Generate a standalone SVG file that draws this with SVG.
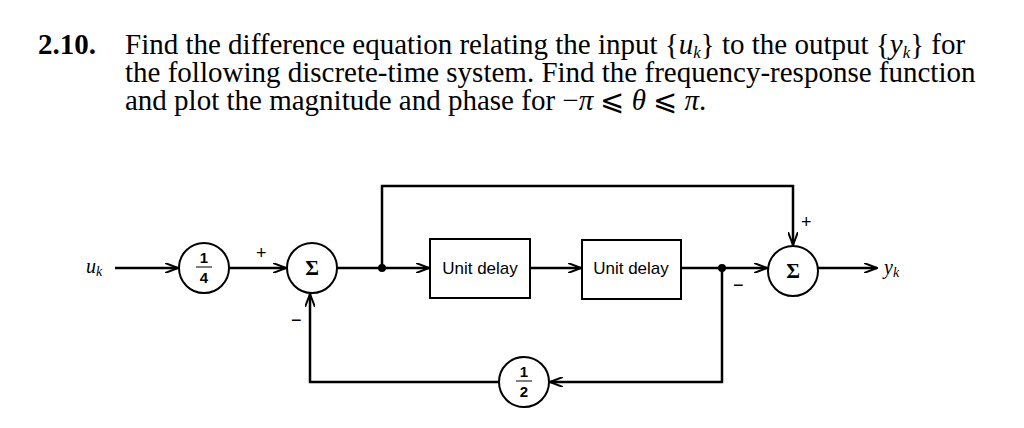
<svg xmlns="http://www.w3.org/2000/svg" width="1024" height="428" viewBox="0 0 1024 428">
<style>
.t{font-family:"Liberation Serif",serif;font-size:29px;fill:#000}
.s{font-family:"Liberation Sans",sans-serif;font-size:17px;fill:#000}
.n{fill:#fff;stroke:#000;stroke-width:2}
.c{fill:none;stroke:#000;stroke-width:2.5}
.m{font-family:"Liberation Sans",sans-serif;font-size:15px;font-weight:bold;text-anchor:middle}
</style>
<defs><marker id="a" markerWidth="14" markerHeight="10" refX="13" refY="5" orient="auto" markerUnits="userSpaceOnUse"><path d="M0,0 L13,5 L0,10" fill="none" stroke="#000" stroke-width="2"/></marker></defs>
<rect width="1024" height="428" fill="#fff"/>
<g id="problem">
<text class="t" x="38" y="54" font-weight="bold" font-size="27">2.10.</text>
<text class="t" x="125" y="54">Find the difference equation relating the input {<tspan font-style="italic">u<tspan font-size="17" dy="4">k</tspan></tspan><tspan dy="-4">} to the output {</tspan><tspan font-style="italic">y<tspan font-size="17" dy="4">k</tspan></tspan><tspan dy="-4">} for</tspan></text>
<text class="t" x="125" y="82">the following discrete-time system. Find the frequency-response function</text>
<text class="t" x="125" y="110">and plot the magnitude and phase for −<tspan font-style="italic">π</tspan> ⩽ <tspan font-style="italic">θ</tspan> ⩽ <tspan font-style="italic">π</tspan>.</text>
</g>
<g id="connectors">
<line class="c" x1="115" y1="268" x2="178" y2="268" marker-end="url(#a)"/>
<line class="c" x1="229" y1="268" x2="286" y2="268" marker-end="url(#a)"/>
<line class="c" x1="337" y1="268" x2="429" y2="268" marker-end="url(#a)"/>
<polyline class="c" points="382,268 382,186 793,186 793,245" marker-end="url(#a)"/>
<line class="c" x1="530" y1="268" x2="581" y2="268" marker-end="url(#a)"/>
<line class="c" x1="681" y1="268" x2="767" y2="268" marker-end="url(#a)"/>
<line class="c" x1="818" y1="268" x2="877" y2="268" marker-end="url(#a)"/>
<polyline class="c" points="722,268 722,382 550,382" marker-end="url(#a)"/>
<polyline class="c" points="499,382 310,382 310,294" marker-end="url(#a)"/>
<circle cx="382" cy="268" r="4"/><circle cx="722" cy="268" r="4"/>
</g>
<g id="uk"><text x="86" y="273" font-family="Liberation Serif,serif" font-style="italic" font-size="20">u<tspan font-size="14" dy="3">k</tspan></text></g>
<g id="gain14"><circle class="n" cx="204" cy="268" r="25"/><text class="m" x="204" y="263">1</text><line x1="196" y1="267" x2="212" y2="267" stroke="#000"/><text class="m" x="204" y="283">4</text></g>
<g id="sum1"><circle class="n" cx="312" cy="268" r="25"/><text x="312" y="275" font-family="Liberation Serif,serif" font-weight="bold" font-size="21" text-anchor="middle">Σ</text></g>
<g id="delay1"><rect class="n" x="430" y="239" width="100" height="59" stroke-width="1.5"/><text class="s" x="480" y="274" text-anchor="middle">Unit delay</text></g>
<g id="delay2"><rect class="n" x="582" y="240" width="99" height="59" stroke-width="1.5"/><text class="s" x="631" y="274" text-anchor="middle">Unit delay</text></g>
<g id="sum2"><circle class="n" cx="793" cy="271" r="25"/><text x="793" y="278" font-family="Liberation Serif,serif" font-weight="bold" font-size="21" text-anchor="middle">Σ</text></g>
<g id="gain12"><circle class="n" cx="524" cy="382" r="25"/><text class="m" x="524" y="377">1</text><line x1="516" y1="381" x2="532" y2="381" stroke="#000"/><text class="m" x="524" y="397">2</text></g>
<g id="yk"><text x="884" y="274" font-family="Liberation Serif,serif" font-style="italic" font-size="20">y<tspan font-size="14" dy="3">k</tspan></text></g>
<g id="signs" font-family="Liberation Sans,sans-serif" font-size="18">
<text x="256" y="259">+</text><text x="291" y="326">−</text><text x="801" y="228">+</text><text x="733" y="291">−</text>
</g>
</svg>
